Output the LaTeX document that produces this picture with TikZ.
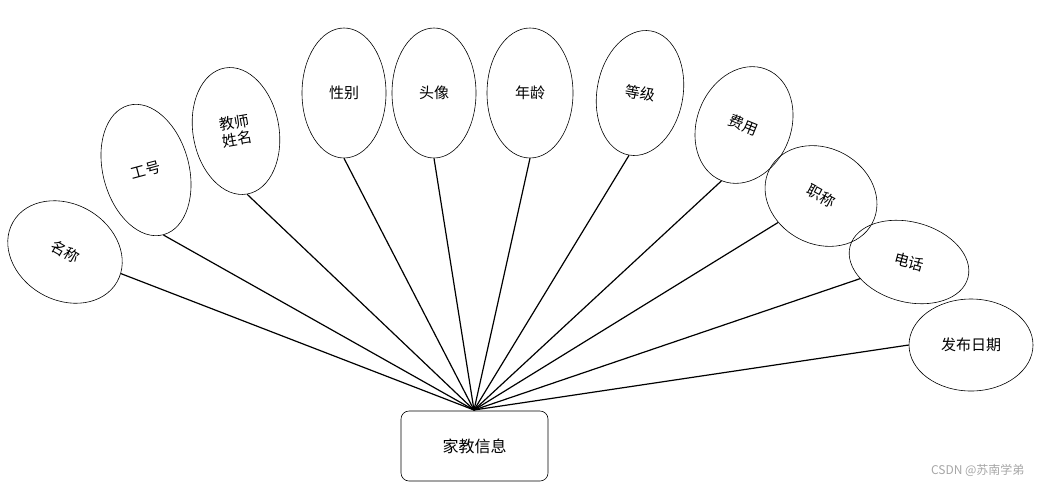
\documentclass[tikz,border=0pt]{standalone}
\usepackage{fontspec}
\setmainfont{Noto Sans CJK SC}
\usetikzlibrary{shapes.geometric}
\begin{document}
\begin{tikzpicture}[x=1pt,y=-1pt,
  attr/.style={draw,ellipse,inner sep=0pt,line width=0.6pt,font=\fontsize{15}{17}\selectfont,align=center},
  link/.style={line width=1.2pt}]
\useasboundingbox (0,0) rectangle (1040,488);
\node[draw,rounded corners=8pt,minimum width=147pt,minimum height=70pt,line width=0.6pt,font=\fontsize{16}{18}\selectfont] (main) at (474.5,446) {家教信息};
\coordinate (hub) at (474,410);
\node[attr,minimum width=120pt,minimum height=96pt,rotate=-30] (a1) at (65,252) {名称};
\node[attr,minimum width=86pt,minimum height=134pt,rotate=15] (a2) at (146,170) {工号};
\node[attr,minimum width=86pt,minimum height=128pt,rotate=10] (a3) at (236,131) {教师\\姓名};
\node[attr,minimum width=84pt,minimum height=130pt] (a4) at (344,93) {性别};
\node[attr,minimum width=84pt,minimum height=130pt] (a5) at (434,93) {头像};
\node[attr,minimum width=86pt,minimum height=130pt] (a6) at (530,93) {年龄};
\node[attr,minimum width=86pt,minimum height=126pt,rotate=-10] (a7) at (640,93) {等级};
\node[attr,minimum width=94pt,minimum height=120pt,rotate=-22] (a8) at (744,125) {费用};
\node[attr,minimum width=116pt,minimum height=96pt,rotate=-28] (a9) at (821,196) {职称};
\node[attr,minimum width=122pt,minimum height=80pt,rotate=-15] (a10) at (909,262) {电话};
\node[attr,minimum width=124pt,minimum height=92pt] (a11) at (971,345) {发布日期};
\foreach \n in {a2,a3,a4,a5,a6,a7,a8} \draw[link] (hub) -- (\n.south);
\foreach \n in {a1,a9,a10} \draw[link] (hub) -- (\n);
\draw[link] (hub) -- (a11.west);
\node[font=\fontsize{12}{14}\selectfont,text=gray!70,anchor=east] (wm) at (1028,470) {CSDN @苏南学弟};
\end{tikzpicture}
\end{document}
